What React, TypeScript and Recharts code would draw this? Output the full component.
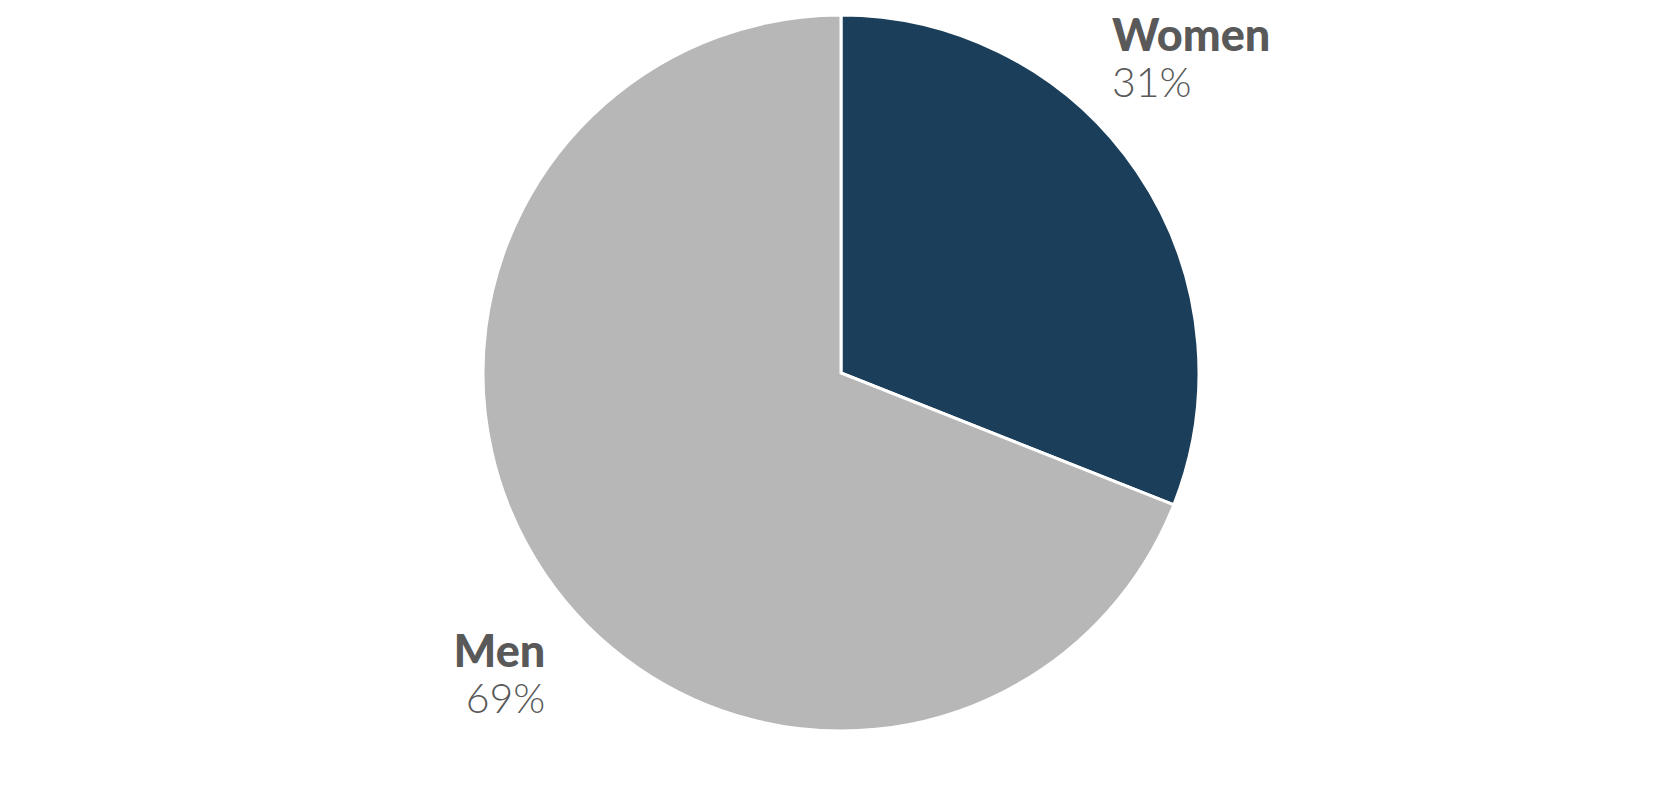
import { PieChart, Pie, Cell } from 'recharts'

const groups = ['Women', 'Men']
const shares = [31, 69]
const colors = ['#1b3f5a', '#b7b7b7']

const data = groups.map((name, i) => ({ name, value: shares[i] }))

// label placement relative to pie radius (fraction of outerRadius)
const labelPos: Record<string, { dx: number; dy: number; anchor: 'start' | 'end' }> = {
  Women: { dx: 0.757, dy: -0.899, anchor: 'start' },
  Men: { dx: -0.826, dy: 0.821, anchor: 'end' },
}

function renderLabel(props: any) {
  const { cx, cy, outerRadius, name, value } = props
  const p = labelPos[name]
  const x = cx + outerRadius * p.dx
  const y = cy + outerRadius * p.dy
  return (
    <text x={x} y={y} textAnchor={p.anchor} fontFamily="Lato, 'Open Sans', sans-serif">
      <tspan x={x} fontSize={45} fontWeight={900} fill="#595959">{name}</tspan>
      <tspan x={x} dy={46} fontSize={41} fontWeight={300} fill="#595959">{value}%</tspan>
    </text>
  )
}

export default function App() {
  return (
    <div style={{ position: 'fixed', left: 0, top: 0, width: 1680, height: 800, background: '#fff' }}>
      <PieChart width={1680} height={800} margin={{ top: 0, right: 0, bottom: 0, left: 0 }}>
        <Pie
          data={data}
          dataKey="value"
          nameKey="name"
          cx={841}
          cy={373}
          outerRadius={358}
          startAngle={90}
          endAngle={-270}
          stroke="#ffffff"
          strokeWidth={3}
          label={renderLabel}
          labelLine={false}
          isAnimationActive={false}
        >
          {data.map((d, i) => (
            <Cell key={d.name} fill={colors[i]} />
          ))}
        </Pie>
      </PieChart>
    </div>
  )
}
